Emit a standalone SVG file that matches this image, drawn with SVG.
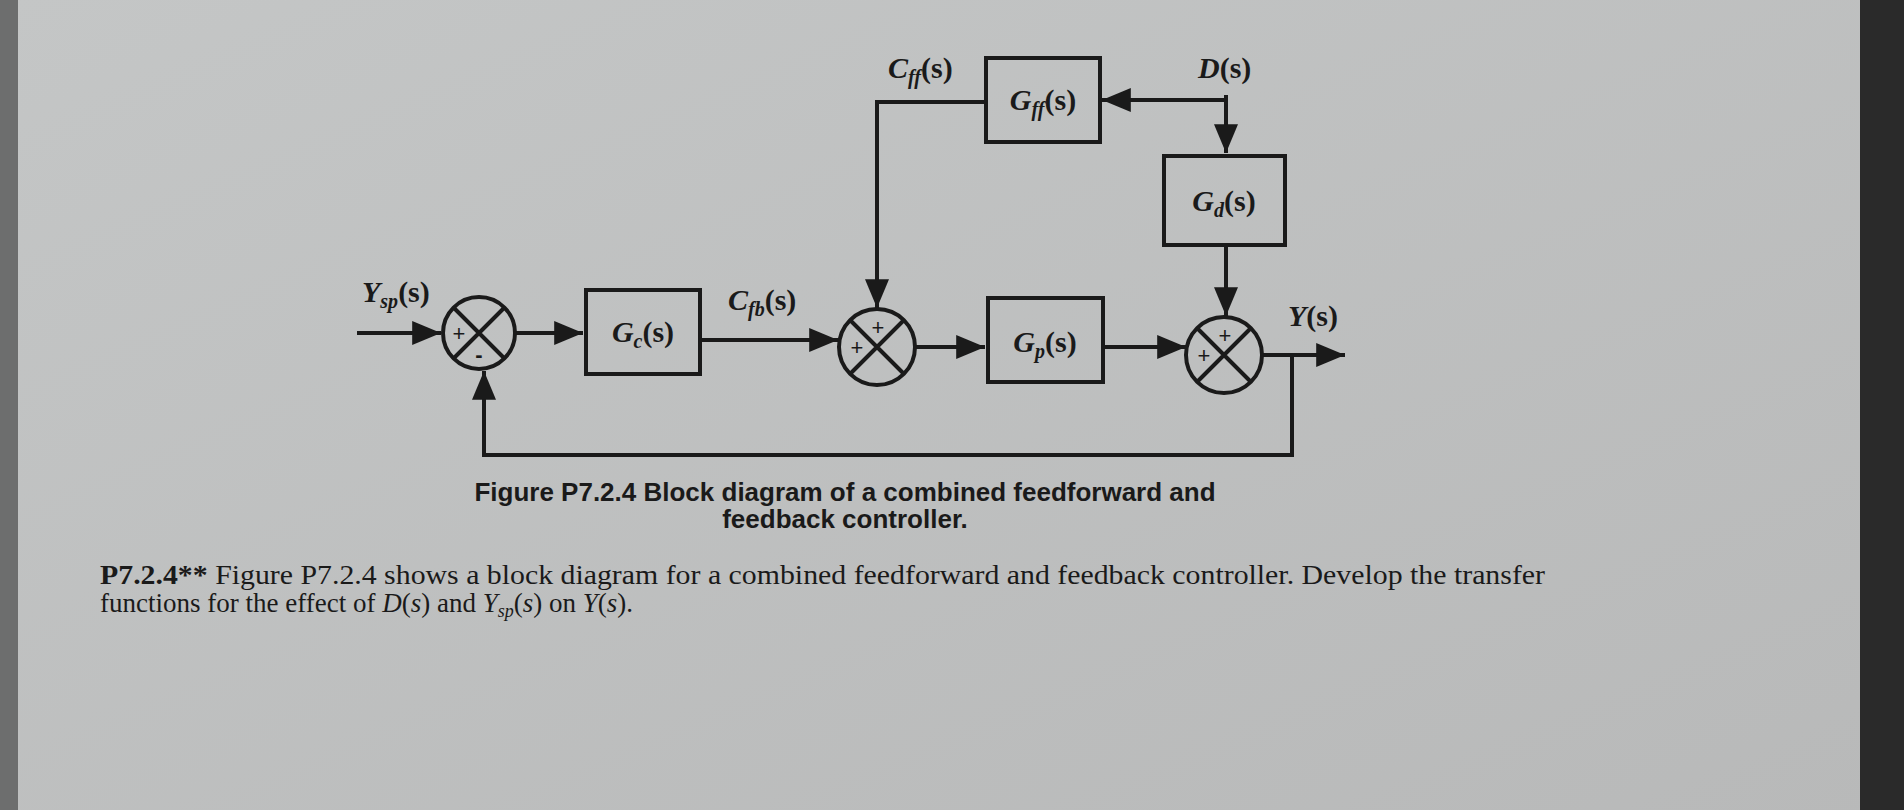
<svg xmlns="http://www.w3.org/2000/svg" width="1904" height="810" viewBox="0 0 1904 810">
<defs>
<marker id="ab" viewBox="0 0 12 10" markerWidth="34" markerHeight="24" refX="12" refY="5" orient="auto" markerUnits="userSpaceOnUse"><path d="M0,0 L12,5 L0,10 Z" fill="#1a1a1a"/></marker>
<linearGradient id="bg" x1="0" y1="0" x2="1" y2="1"><stop offset="0" stop-color="#c4c6c6"/><stop offset="1" stop-color="#b8b9b9"/></linearGradient>
</defs>
<style>
.b{fill:none;stroke:#1a1a1a;stroke-width:4}
.w{fill:none;stroke:#1a1a1a;stroke-width:4}
.l{font-family:"Liberation Serif",serif;font-weight:bold;font-size:30px;fill:#1a1a1a}
.i{font-style:italic}
.s{font-style:italic;font-size:20px}
.pl{font-family:"Liberation Sans",sans-serif;font-size:22px;fill:#1a1a1a}
.cap{font-family:"Liberation Sans",sans-serif;font-weight:bold;font-size:26px;fill:#1a1a1a}
.p{font-family:"Liberation Serif",serif;font-size:27px;fill:#1a1a1a}
</style>
<rect width="1904" height="810" fill="url(#bg)"/>
<rect x="0" y="0" width="18" height="810" fill="#6d6e6e"/>
<rect x="1860" y="0" width="44" height="810" fill="#2a2a2a"/>
<g id="connectors">
<path class="w" d="M357,333 H441" marker-end="url(#ab)"/>
<path class="w" d="M515,333 H583" marker-end="url(#ab)"/>
<path class="w" d="M700,340 H838" marker-end="url(#ab)"/>
<path class="w" d="M915,347 H985" marker-end="url(#ab)"/>
<path class="w" d="M1103,347 H1186" marker-end="url(#ab)"/>
<path class="w" d="M1262,355 H1345" marker-end="url(#ab)"/>
<path class="w" d="M985,102 H877 V308" marker-end="url(#ab)"/>
<path class="w" d="M1226,95 V153" marker-end="url(#ab)"/>
<path class="w" d="M1226,100 H1102" marker-end="url(#ab)"/>
<path class="w" d="M1226,245 V316" marker-end="url(#ab)"/>
<path class="w" d="M1292,355 V455 H484 V371" marker-end="url(#ab)"/>
</g>
<g id="sum1"><circle class="b" cx="479" cy="333" r="36"/><path class="b" d="M454,308 L504,358 M504,308 L454,358"/><text class="pl" x="459" y="341" text-anchor="middle">+</text><text x="479" y="362" font-family="Liberation Sans,sans-serif" font-weight="bold" font-size="22" fill="#1a1a1a" text-anchor="middle">-</text></g>
<g id="Gc"><rect class="b" x="586" y="290" width="114" height="84"/><text class="l" x="643" y="342" text-anchor="middle"><tspan class="i">G</tspan><tspan class="s" dy="6">c</tspan><tspan dy="-6">(s)</tspan></text></g>
<g id="sum2"><circle class="b" cx="877" cy="347" r="38"/><path class="b" d="M850,320 L904,374 M904,320 L850,374"/><text class="pl" x="878" y="335" text-anchor="middle">+</text><text class="pl" x="857" y="355" text-anchor="middle">+</text></g>
<g id="Gp"><rect class="b" x="988" y="298" width="115" height="84"/><text class="l" x="1045" y="352" text-anchor="middle"><tspan class="i">G</tspan><tspan class="s" dy="6">p</tspan><tspan dy="-6">(s)</tspan></text></g>
<g id="sum3"><circle class="b" cx="1224" cy="355" r="38"/><path class="b" d="M1197,328 L1251,382 M1251,328 L1197,382"/><text class="pl" x="1225" y="343" text-anchor="middle">+</text><text class="pl" x="1204" y="363" text-anchor="middle">+</text></g>
<g id="Gff"><rect class="b" x="986" y="58" width="114" height="84"/><text class="l" x="1043" y="110" text-anchor="middle"><tspan class="i">G</tspan><tspan class="s" dy="6">ff</tspan><tspan dy="-6">(s)</tspan></text></g>
<g id="Gd"><rect class="b" x="1164" y="156" width="121" height="89"/><text class="l" x="1224" y="211" text-anchor="middle"><tspan class="i">G</tspan><tspan class="s" dy="6">d</tspan><tspan dy="-6">(s)</tspan></text></g>
<g id="labels">
<text class="l" x="362" y="302"><tspan class="i">Y</tspan><tspan class="s" dy="6">sp</tspan><tspan dy="-6">(s)</tspan></text>
<text class="l" x="728" y="310"><tspan class="i">C</tspan><tspan class="s" dy="6">fb</tspan><tspan dy="-6">(s)</tspan></text>
<text class="l" x="888" y="78"><tspan class="i">C</tspan><tspan class="s" dy="6">ff</tspan><tspan dy="-6">(s)</tspan></text>
<text class="l" x="1198" y="78"><tspan class="i">D</tspan>(s)</text>
<text class="l" x="1288" y="326"><tspan class="i">Y</tspan>(s)</text>
</g>
<g id="caption">
<text class="cap" x="845" y="501" text-anchor="middle">Figure P7.2.4  Block diagram of a combined feedforward and</text>
<text class="cap" x="845" y="528" text-anchor="middle">feedback controller.</text>
</g>
<g id="paragraph">
<text class="p" x="100" y="584" textLength="1445" lengthAdjust="spacingAndGlyphs"><tspan font-weight="bold">P7.2.4**</tspan> Figure P7.2.4 shows a block diagram for a combined feedforward and feedback controller. Develop the transfer</text>
<text class="p" x="100" y="612">functions for the effect of <tspan font-style="italic">D</tspan>(<tspan font-style="italic">s</tspan>) and <tspan font-style="italic">Y</tspan><tspan font-style="italic" font-size="18" dy="5">sp</tspan><tspan dy="-5">(</tspan><tspan font-style="italic">s</tspan>) on <tspan font-style="italic">Y</tspan>(<tspan font-style="italic">s</tspan>).</text>
</g>
</svg>
